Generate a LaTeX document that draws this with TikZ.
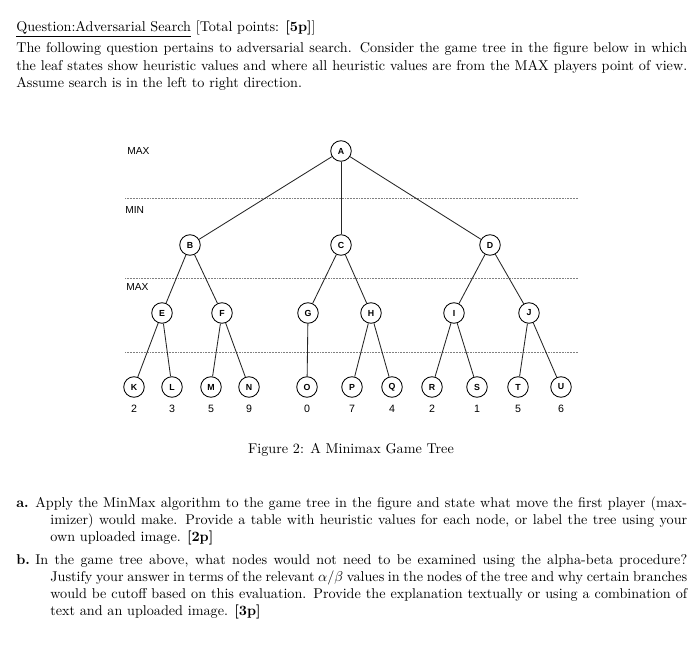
\documentclass[tikz,border=0pt]{standalone}
\usepackage{amsmath}
\usepackage{fontspec}
\newfontfamily\treefont{Liberation Sans}
\usepackage{tikz}
\usetikzlibrary{positioning}
\tikzstyle{gamenode} = [circle, draw=black, line width=0.6pt, minimum size=14.5pt, inner sep=0pt, font=\treefont\bfseries\fontsize{6.2}{7}\selectfont]
\tikzstyle{leafval} = [inner sep=0pt, font=\treefont\fontsize{7.5}{9}\selectfont]
\tikzstyle{plylabel} = [anchor=west, inner sep=0pt, font=\treefont\fontsize{7.2}{9}\selectfont]
\tikzstyle{plyline} = [gray, line width=0.7pt, dash pattern=on 0.6pt off 0.5pt]
\tikzstyle{branch} = [line width=0.6pt, black!85]
\tikzstyle{textblock} = [anchor=base west, inner sep=0pt, text width=473pt, align=justify]

\begin{document}
\begin{tikzpicture}[x=0.705pt, y=-0.705pt, node distance=15.5pt]
    \useasboundingbox (0,0) rectangle (700,651);

    % Question text
    \node (title) [anchor=base west, inner sep=0pt] at (16,32) {\underline{Question:Adversarial Search} [Total points: \textbf{[5p]}]};
    \node (intro) [textblock] at (16,53) {\noindent The following question pertains to adversarial search. Consider the game tree in the figure below in which the leaf states show heuristic values and where all heuristic values are from the MAX players point of view. Assume search is in the left to right direction.};

    % Ply separators
    \coordinate (s1l) at (125,198);
    \coordinate (s1r) at (578,198);
    \coordinate (s2l) at (125,278);
    \coordinate (s2r) at (578,278);
    \coordinate (s3l) at (125,352);
    \coordinate (s3r) at (578,352);
    \draw [plyline] (s1l) -- (s1r);
    \draw [plyline] (s2l) -- (s2r);
    \draw [plyline] (s3l) -- (s3r);

    % Ply labels
    \node (max1) [plylabel] at (127,151) {MAX};
    \node (min1) [plylabel] at (125,210) {MIN};
    \node (max2) [plylabel] at (126,287) {MAX};

    % Root
    \node (A) [gamenode] at (341,151) {A};

    % MIN level
    \node (B) [gamenode] at (190,245) {B};
    \node (C) [gamenode] at (341,245) {C};
    \node (D) [gamenode] at (490,245) {D};

    % MAX level
    \node (E) [gamenode] at (162,313) {E};
    \node (F) [gamenode] at (222,313) {F};
    \node (G) [gamenode] at (308,313) {G};
    \node (H) [gamenode] at (371,313) {H};
    \node (I) [gamenode] at (454,313) {I};
    \node (J) [gamenode] at (529,313) {J};

    % Leaves
    \node (K) [gamenode] at (134,387) {K};
    \node (L) [gamenode] at (172,387) {L};
    \node (M) [gamenode] at (211,387) {M};
    \node (N) [gamenode] at (249,387) {N};
    \node (O) [gamenode] at (307,387) {O};
    \node (P) [gamenode] at (352,387) {P};
    \node (Q) [gamenode] at (392,387) {Q};
    \node (R) [gamenode] at (432,387) {R};
    \node (S) [gamenode] at (477,387) {S};
    \node (T) [gamenode] at (518,387) {T};
    \node (U) [gamenode] at (561,387) {U};

    % Heuristic values
    \node (vK) [leafval, below of=K] {2};
    \node (vL) [leafval, below of=L] {3};
    \node (vM) [leafval, below of=M] {5};
    \node (vN) [leafval, below of=N] {9};
    \node (vO) [leafval, below of=O] {0};
    \node (vP) [leafval, below of=P] {7};
    \node (vQ) [leafval, below of=Q] {4};
    \node (vR) [leafval, below of=R] {2};
    \node (vS) [leafval, below of=S] {1};
    \node (vT) [leafval, below of=T] {5};
    \node (vU) [leafval, below of=U] {6};

    % Branches
    \draw [branch] (A) -- (B);
    \draw [branch] (A) -- (C);
    \draw [branch] (A) -- (D);
    \draw [branch] (B) -- (E);
    \draw [branch] (B) -- (F);
    \draw [branch] (C) -- (G);
    \draw [branch] (C) -- (H);
    \draw [branch] (D) -- (I);
    \draw [branch] (D) -- (J);
    \draw [branch] (E) -- (K);
    \draw [branch] (E) -- (L);
    \draw [branch] (F) -- (M);
    \draw [branch] (F) -- (N);
    \draw [branch] (G) -- (O);
    \draw [branch] (H) -- (P);
    \draw [branch] (H) -- (Q);
    \draw [branch] (I) -- (R);
    \draw [branch] (I) -- (S);
    \draw [branch] (J) -- (T);
    \draw [branch] (J) -- (U);

    % Caption
    \node (caption) [anchor=base, inner sep=0pt] at (351,453) {Figure 2: A Minimax Game Tree};

    % Sub-questions
    \node (parta) [textblock] at (16,507) {\noindent\hangindent=24pt\hangafter=1\makebox[13.4pt][l]{\textbf{a.}}Apply the MinMax algorithm to the game tree in the figure and state what move the first player (max\-imizer) would make. Provide a table with heuristic values for each node, or label the tree using your own uploaded image. \textbf{[2p]}\par};
    \node (partb) [textblock] at (16,564) {\noindent\hangindent=24pt\hangafter=1\makebox[13.4pt][l]{\textbf{b.}}In the game tree above, what nodes would not need to be examined using the alpha-beta procedure?\linebreak Justify your answer in terms of the relevant $\alpha/\beta$ values in the nodes of the tree and why certain branches\linebreak would be cutoff based on this evaluation. Provide the explanation textually or using a combination of\linebreak text and an uploaded image. \textbf{[3p]}\par};
\end{tikzpicture}
\end{document}
